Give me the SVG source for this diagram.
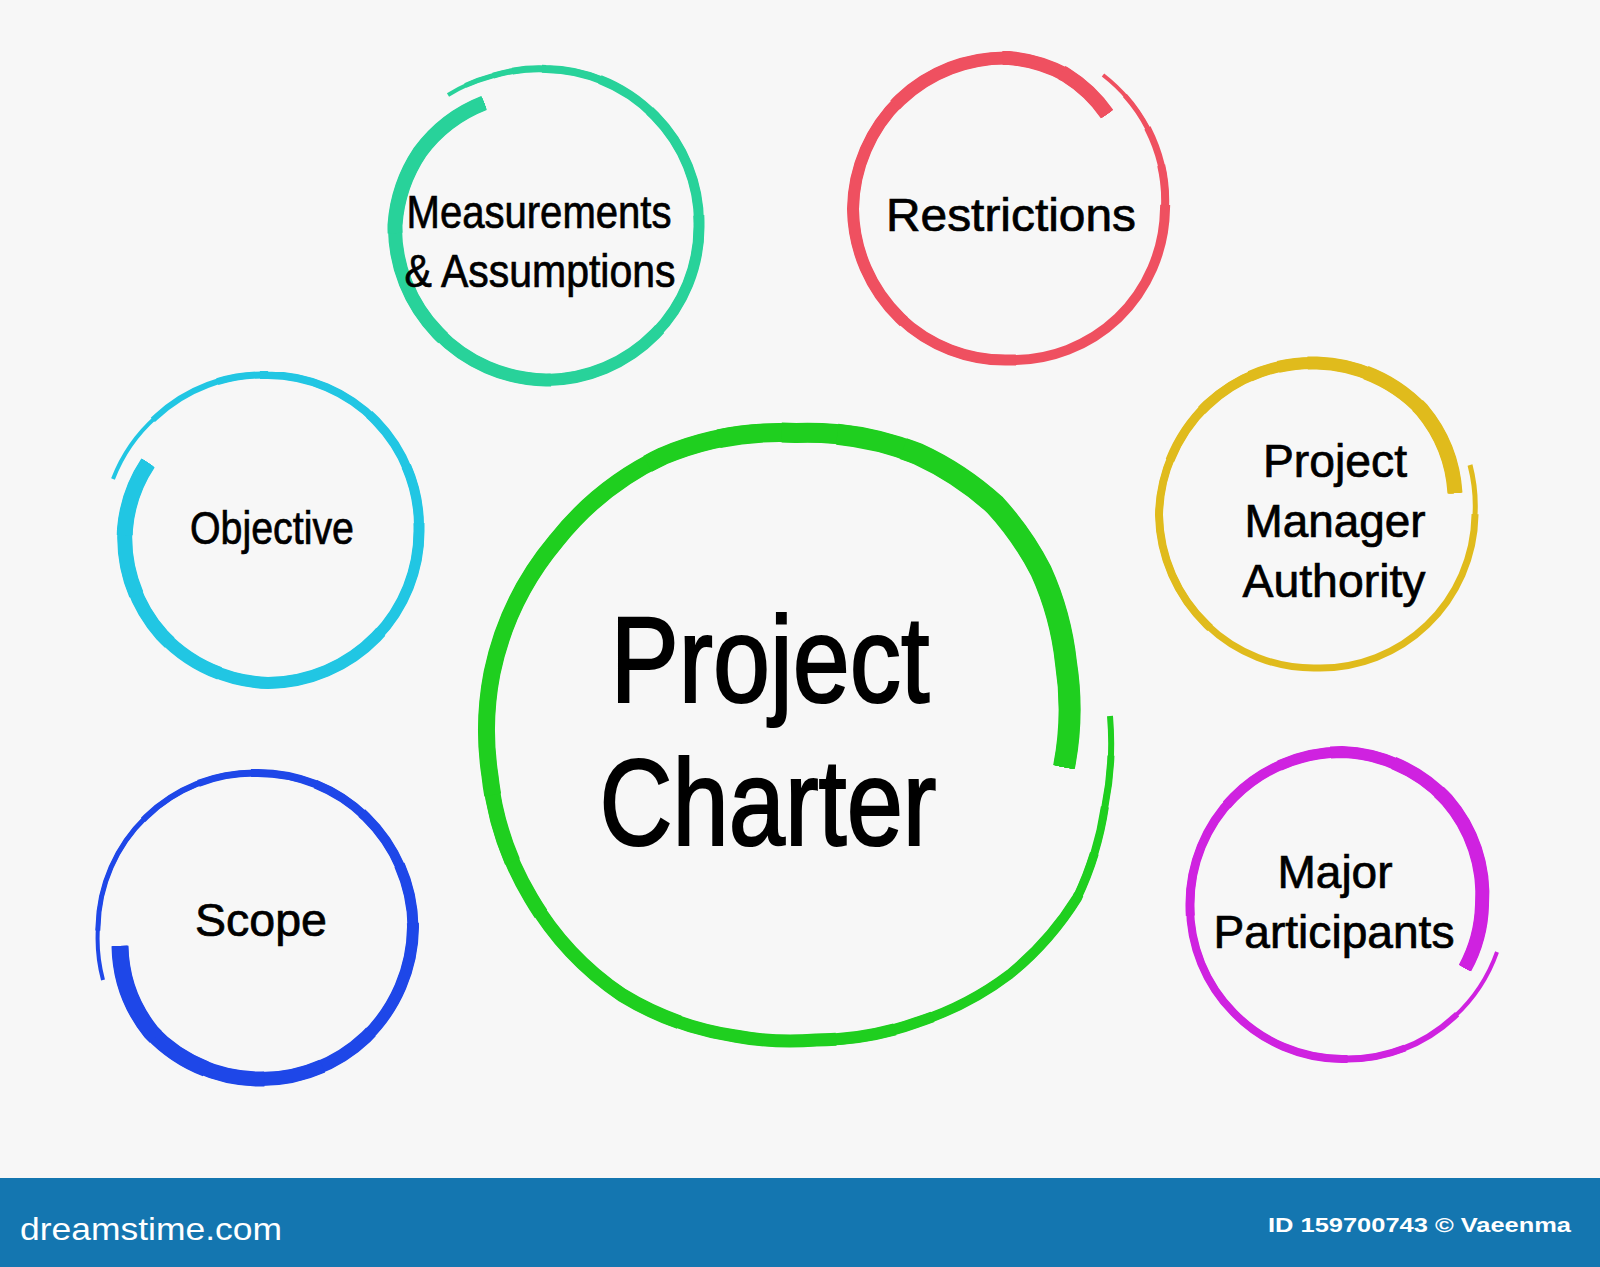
<svg xmlns="http://www.w3.org/2000/svg" xmlns:xlink="http://www.w3.org/1999/xlink" width="1600" height="1267" viewBox="0 0 1600 1267">
<style>
.arc{fill:none;stroke-linecap:butt;stroke-linejoin:round}
.teal{stroke:#28D29A}
.red{stroke:#EF5060}
.yel{stroke:#E0BB1C}
.cyan{stroke:#21C6E3}
.blue{stroke:#1E47E8}
.mag{stroke:#CF22E0}
.grn{stroke:#1FCF1F}
.lbl{font-family:"Liberation Sans",Arial,sans-serif;font-size:46px;fill:#000;stroke:#000;stroke-width:0.7px;text-anchor:middle}
.big{font-family:"Liberation Sans",Arial,sans-serif;font-size:122px;fill:#000;stroke:#000;stroke-width:2.2px;text-anchor:middle}
</style>
<defs>
<path id="sp-grn" pathLength="100" d="M1064,767 A300,300 0 0 0 1066,663 A300,300 0 0 0 1041,571 A300,300 0 0 0 995,505 A300,300 0 0 0 918,454 A300,300 0 0 0 796,433 A300,300 0 0 0 663,456 A300,300 0 0 0 556,541 A300,300 0 0 0 492,673 A300,300 0 0 0 490,776 A300,300 0 0 0 531,898 A300,300 0 0 0 622,995 A300,300 0 0 0 735,1036 A300,300 0 0 0 816,1040 A300,300 0 0 0 918,1022 A310,310 0 0 0 1010,974 A310,310 0 0 0 1077,898 A320,320 0 0 0 1105,806 A320,320 0 0 0 1110,716"/>
<path id="sp-teal" pathLength="100" d="M484,103 A145,145 0 0 0 420,152 A150,150 0 0 0 395,225 A152,152 0 0 0 438,333 A154,154 0 0 0 546,380 A154,154 0 0 0 655,334 A153,153 0 0 0 699,225 A153,153 0 0 0 655,116 A155,155 0 0 0 546,69 A158,158 0 0 0 492,76 A160,160 0 0 0 448,95"/>
<path id="sp-red" pathLength="100" d="M1107,114 A140,140 0 0 0 1066,75 A148,148 0 0 0 1009,58 A153,153 0 0 0 900,100 A155,155 0 0 0 853,209 A155,155 0 0 0 900,318 A153,153 0 0 0 1009,360 A153,153 0 0 0 1118,318 A155,155 0 0 0 1165,209 A158,158 0 0 0 1148,129 A162,162 0 0 0 1103,75"/>
<path id="sp-yel" pathLength="100" d="M1455,493 A144,144 0 0 0 1422,410 A150,150 0 0 0 1317,363 A154,154 0 0 0 1207,405 A157,157 0 0 0 1159,515 A157,157 0 0 0 1207,625 A154,154 0 0 0 1317,668 A154,154 0 0 0 1427,625 A156,156 0 0 0 1475,515 A160,160 0 0 0 1470,465"/>
<path id="sp-cyan" pathLength="100" d="M148,463 A140,140 0 0 0 125,529 A146,146 0 0 0 162,635 A152,152 0 0 0 268,683 A153,153 0 0 0 376,637 A152,152 0 0 0 419,529 A152,152 0 0 0 376,421 A153,153 0 0 0 268,375 A156,156 0 0 0 156,417 A160,160 0 0 0 113,479"/>
<path id="sp-blue" pathLength="100" d="M120,946 A142,142 0 0 0 151,1032 A150,150 0 0 0 256,1079 A153,153 0 0 0 366,1037 A156,156 0 0 0 413,927 A156,156 0 0 0 366,817 A155,155 0 0 0 256,773 A155,155 0 0 0 146,817 A157,157 0 0 0 98,927 A160,160 0 0 0 103,980"/>
<path id="sp-mag" pathLength="100" d="M1465,968 A139,139 0 0 0 1482,905 A144,144 0 0 0 1447,800 A150,150 0 0 0 1342,752 A153,153 0 0 0 1234,797 A152,152 0 0 0 1190,905 A152,152 0 0 0 1234,1013 A153,153 0 0 0 1342,1059 A156,156 0 0 0 1454,1017 A160,160 0 0 0 1497,952"/>
</defs>
<rect x="0" y="0" width="1600" height="1267" fill="#F7F7F7"/>

<g id="node-charter">
<g class="arc grn">
<use href="#sp-grn" xlink:href="#sp-grn" stroke-width="6"/>
<use href="#sp-grn" xlink:href="#sp-grn" stroke-width="7" stroke-dasharray="98 200"/>
<use href="#sp-grn" xlink:href="#sp-grn" stroke-width="8" stroke-dasharray="95.4 200"/>
<use href="#sp-grn" xlink:href="#sp-grn" stroke-width="9" stroke-dasharray="93 200"/>
<use href="#sp-grn" xlink:href="#sp-grn" stroke-width="10" stroke-dasharray="90.8 200"/>
<use href="#sp-grn" xlink:href="#sp-grn" stroke-width="11" stroke-dasharray="81 200"/>
<use href="#sp-grn" xlink:href="#sp-grn" stroke-width="12" stroke-dasharray="79 200"/>
<use href="#sp-grn" xlink:href="#sp-grn" stroke-width="13" stroke-dasharray="76 200"/>
<use href="#sp-grn" xlink:href="#sp-grn" stroke-width="14" stroke-dasharray="68 200"/>
<use href="#sp-grn" xlink:href="#sp-grn" stroke-width="15" stroke-dasharray="59 200"/>
<use href="#sp-grn" xlink:href="#sp-grn" stroke-width="16" stroke-dasharray="56 200"/>
<use href="#sp-grn" xlink:href="#sp-grn" stroke-width="17" stroke-dasharray="52.5 200"/>
<use href="#sp-grn" xlink:href="#sp-grn" stroke-width="18" stroke-dasharray="32.8 200"/>
<use href="#sp-grn" xlink:href="#sp-grn" stroke-width="19" stroke-dasharray="29 200"/>
<use href="#sp-grn" xlink:href="#sp-grn" stroke-width="20" stroke-dasharray="25.8 200"/>
<use href="#sp-grn" xlink:href="#sp-grn" stroke-width="21" stroke-dasharray="23 200"/>
<use href="#sp-grn" xlink:href="#sp-grn" stroke-width="22" stroke-dasharray="19.6 200"/>
</g>
<text class="big" x="770" y="702" textLength="319" lengthAdjust="spacingAndGlyphs">Project</text>
<text class="big" x="768" y="845" textLength="337" lengthAdjust="spacingAndGlyphs">Charter</text>
</g>

<g id="node-measurements">
<g class="arc teal">
<use href="#sp-teal" xlink:href="#sp-teal" stroke-width="4"/>
<use href="#sp-teal" xlink:href="#sp-teal" stroke-width="5" stroke-dasharray="98 200"/>
<use href="#sp-teal" xlink:href="#sp-teal" stroke-width="6" stroke-dasharray="95 200"/>
<use href="#sp-teal" xlink:href="#sp-teal" stroke-width="7" stroke-dasharray="93 200"/>
<use href="#sp-teal" xlink:href="#sp-teal" stroke-width="8" stroke-dasharray="90 200"/>
<use href="#sp-teal" xlink:href="#sp-teal" stroke-width="9" stroke-dasharray="84 200"/>
<use href="#sp-teal" xlink:href="#sp-teal" stroke-width="10" stroke-dasharray="78 200"/>
<use href="#sp-teal" xlink:href="#sp-teal" stroke-width="11" stroke-dasharray="66 200"/>
<use href="#sp-teal" xlink:href="#sp-teal" stroke-width="12" stroke-dasharray="53.5 200"/>
<use href="#sp-teal" xlink:href="#sp-teal" stroke-width="13" stroke-dasharray="41 200"/>
<use href="#sp-teal" xlink:href="#sp-teal" stroke-width="14" stroke-dasharray="29 200"/>
<use href="#sp-teal" xlink:href="#sp-teal" stroke-width="15" stroke-dasharray="17 200"/>
</g>
<text class="lbl" x="539" y="228" textLength="265" lengthAdjust="spacingAndGlyphs">Measurements</text>
<text class="lbl" x="540" y="287" textLength="271" lengthAdjust="spacingAndGlyphs">&amp; Assumptions</text>
</g>

<g id="node-restrictions">
<g class="arc red">
<use href="#sp-red" xlink:href="#sp-red" stroke-width="4"/>
<use href="#sp-red" xlink:href="#sp-red" stroke-width="5" stroke-dasharray="97 200"/>
<use href="#sp-red" xlink:href="#sp-red" stroke-width="7" stroke-dasharray="93 200"/>
<use href="#sp-red" xlink:href="#sp-red" stroke-width="8" stroke-dasharray="89 200"/>
<use href="#sp-red" xlink:href="#sp-red" stroke-width="10" stroke-dasharray="85 200"/>
<use href="#sp-red" xlink:href="#sp-red" stroke-width="11" stroke-dasharray="61 200"/>
<use href="#sp-red" xlink:href="#sp-red" stroke-width="12" stroke-dasharray="48.8 200"/>
<use href="#sp-red" xlink:href="#sp-red" stroke-width="13" stroke-dasharray="24.5 200"/>
<use href="#sp-red" xlink:href="#sp-red" stroke-width="14" stroke-dasharray="12.4 200"/>
<use href="#sp-red" xlink:href="#sp-red" stroke-width="15" stroke-dasharray="6.2 200"/>
</g>
<text class="lbl" x="1011" y="231" textLength="250" lengthAdjust="spacingAndGlyphs">Restrictions</text>
</g>

<g id="node-authority">
<g class="arc yel">
<use href="#sp-yel" xlink:href="#sp-yel" stroke-width="5"/>
<use href="#sp-yel" xlink:href="#sp-yel" stroke-width="7" stroke-dasharray="95 200"/>
<use href="#sp-yel" xlink:href="#sp-yel" stroke-width="8" stroke-dasharray="58.5 200"/>
<use href="#sp-yel" xlink:href="#sp-yel" stroke-width="9" stroke-dasharray="40 200"/>
<use href="#sp-yel" xlink:href="#sp-yel" stroke-width="10" stroke-dasharray="34 200"/>
<use href="#sp-yel" xlink:href="#sp-yel" stroke-width="11" stroke-dasharray="28 200"/>
<use href="#sp-yel" xlink:href="#sp-yel" stroke-width="12" stroke-dasharray="25 200"/>
<use href="#sp-yel" xlink:href="#sp-yel" stroke-width="13" stroke-dasharray="22 200"/>
<use href="#sp-yel" xlink:href="#sp-yel" stroke-width="14" stroke-dasharray="16 200"/>
<use href="#sp-yel" xlink:href="#sp-yel" stroke-width="15" stroke-dasharray="9.8 200"/>
</g>
<text class="lbl" x="1335" y="477" textLength="144" lengthAdjust="spacingAndGlyphs">Project</text>
<text class="lbl" x="1335" y="537" textLength="181" lengthAdjust="spacingAndGlyphs">Manager</text>
<text class="lbl" x="1334" y="597" textLength="183" lengthAdjust="spacingAndGlyphs">Authority</text>
</g>

<g id="node-objective">
<g class="arc cyan">
<use href="#sp-cyan" xlink:href="#sp-cyan" stroke-width="4"/>
<use href="#sp-cyan" xlink:href="#sp-cyan" stroke-width="6" stroke-dasharray="92.7 200"/>
<use href="#sp-cyan" xlink:href="#sp-cyan" stroke-width="7" stroke-dasharray="85 200"/>
<use href="#sp-cyan" xlink:href="#sp-cyan" stroke-width="8" stroke-dasharray="80.6 200"/>
<use href="#sp-cyan" xlink:href="#sp-cyan" stroke-width="9" stroke-dasharray="68.5 200"/>
<use href="#sp-cyan" xlink:href="#sp-cyan" stroke-width="10" stroke-dasharray="62 200"/>
<use href="#sp-cyan" xlink:href="#sp-cyan" stroke-width="11" stroke-dasharray="56 200"/>
<use href="#sp-cyan" xlink:href="#sp-cyan" stroke-width="12" stroke-dasharray="44 200"/>
<use href="#sp-cyan" xlink:href="#sp-cyan" stroke-width="13" stroke-dasharray="26 200"/>
<use href="#sp-cyan" xlink:href="#sp-cyan" stroke-width="14" stroke-dasharray="20 200"/>
<use href="#sp-cyan" xlink:href="#sp-cyan" stroke-width="15" stroke-dasharray="14 200"/>
<use href="#sp-cyan" xlink:href="#sp-cyan" stroke-width="16" stroke-dasharray="7.8 200"/>
</g>
<text class="lbl" x="272" y="544" textLength="164" lengthAdjust="spacingAndGlyphs">Objective</text>
</g>

<g id="node-scope">
<g class="arc blue">
<use href="#sp-blue" xlink:href="#sp-blue" stroke-width="4"/>
<use href="#sp-blue" xlink:href="#sp-blue" stroke-width="5" stroke-dasharray="95 200"/>
<use href="#sp-blue" xlink:href="#sp-blue" stroke-width="6" stroke-dasharray="82.7 200"/>
<use href="#sp-blue" xlink:href="#sp-blue" stroke-width="7" stroke-dasharray="76 200"/>
<use href="#sp-blue" xlink:href="#sp-blue" stroke-width="8" stroke-dasharray="70.6 200"/>
<use href="#sp-blue" xlink:href="#sp-blue" stroke-width="9" stroke-dasharray="64 200"/>
<use href="#sp-blue" xlink:href="#sp-blue" stroke-width="10" stroke-dasharray="58.5 200"/>
<use href="#sp-blue" xlink:href="#sp-blue" stroke-width="11" stroke-dasharray="52 200"/>
<use href="#sp-blue" xlink:href="#sp-blue" stroke-width="12" stroke-dasharray="46 200"/>
<use href="#sp-blue" xlink:href="#sp-blue" stroke-width="13" stroke-dasharray="34 200"/>
<use href="#sp-blue" xlink:href="#sp-blue" stroke-width="14" stroke-dasharray="28 200"/>
<use href="#sp-blue" xlink:href="#sp-blue" stroke-width="15" stroke-dasharray="22 200"/>
<use href="#sp-blue" xlink:href="#sp-blue" stroke-width="16" stroke-dasharray="16 200"/>
<use href="#sp-blue" xlink:href="#sp-blue" stroke-width="17" stroke-dasharray="10 200"/>
</g>
<text class="lbl" x="261" y="936" textLength="132" lengthAdjust="spacingAndGlyphs">Scope</text>
</g>

<g id="node-participants">
<g class="arc mag">
<use href="#sp-mag" xlink:href="#sp-mag" stroke-width="4"/>
<use href="#sp-mag" xlink:href="#sp-mag" stroke-width="6" stroke-dasharray="92.4 200"/>
<use href="#sp-mag" xlink:href="#sp-mag" stroke-width="7" stroke-dasharray="86 200"/>
<use href="#sp-mag" xlink:href="#sp-mag" stroke-width="8" stroke-dasharray="80 200"/>
<use href="#sp-mag" xlink:href="#sp-mag" stroke-width="9" stroke-dasharray="56 200"/>
<use href="#sp-mag" xlink:href="#sp-mag" stroke-width="10" stroke-dasharray="43.8 200"/>
<use href="#sp-mag" xlink:href="#sp-mag" stroke-width="11" stroke-dasharray="37 200"/>
<use href="#sp-mag" xlink:href="#sp-mag" stroke-width="12" stroke-dasharray="31.6 200"/>
<use href="#sp-mag" xlink:href="#sp-mag" stroke-width="13" stroke-dasharray="25 200"/>
<use href="#sp-mag" xlink:href="#sp-mag" stroke-width="14" stroke-dasharray="19.5 200"/>
</g>
<text class="lbl" x="1335" y="888" textLength="115" lengthAdjust="spacingAndGlyphs">Major</text>
<text class="lbl" x="1334" y="948" textLength="241" lengthAdjust="spacingAndGlyphs">Participants</text>
</g>

<g id="connectors"></g>

<g id="footer">
<rect x="0" y="1178" width="1600" height="89" fill="#1476B0"/>
<text x="20" y="1240" font-family="'Liberation Sans',Arial,sans-serif" font-size="32" fill="#FFFFFF" textLength="262" lengthAdjust="spacingAndGlyphs">dreamstime.com</text>
<text x="1571" y="1232" font-family="'Liberation Sans',Arial,sans-serif" font-size="21" font-weight="bold" fill="#FFFFFF" text-anchor="end" textLength="303" lengthAdjust="spacingAndGlyphs">ID 159700743 © Vaeenma</text>
</g>
</svg>
